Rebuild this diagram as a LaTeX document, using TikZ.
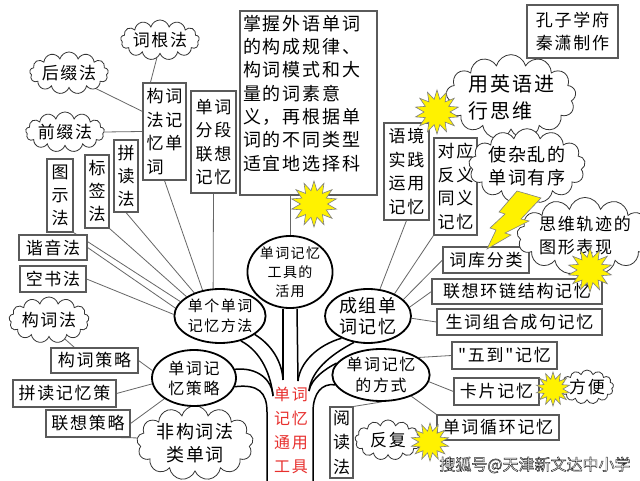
\documentclass[tikz,border=0pt]{standalone}
\usepackage{fontspec}
\setmainfont{Noto Sans CJK SC}
\newfontfamily\cjk[LetterSpace=10]{Noto Sans CJK SC}
\usetikzlibrary{shapes.geometric,shapes.symbols,calc}
\pgfdeclarelayer{bg}
\pgfsetlayers{bg,main}
\definecolor{boxgray}{HTML}{5A5A5A}
\definecolor{lgray}{HTML}{666666}
\definecolor{staryel}{HTML}{FFF200}
\definecolor{redtxt}{HTML}{E8302E}
\newcommand{\outlinetext}[1]{\special{pdf:literal direct 1 g 0.15 G 0.45 w 2 Tr}#1\special{pdf:literal direct 0 Tr 0 g 0 G}}
\tikzset{
  bx/.style={draw=boxgray, line width=1.1pt, fill=white, inner sep=0pt, align=left,
    font=\cjk\fontsize{17}{23.5}\selectfont},
  cl/.style={cloud, cloud puffs=13, cloud ignores aspect, draw=black!80, line width=0.8pt,
    fill=white, inner sep=0pt, align=left, font=\cjk\fontsize{17}{23}\selectfont},
  el/.style={ellipse, draw=black, line width=1.8pt, fill=white, inner sep=0pt, align=center},
  boom/.style={star, star points=14, star point ratio=1.7, fill=staryel, draw=gray,
    line width=0.6pt, inner sep=0pt},
  ln/.style={draw=lgray, line width=0.8pt},
  tr/.style={draw=black, line width=1.5pt},
  wm/.style={inner sep=0pt, font=\fontsize{16}{16}\selectfont},
}
\begin{document}
\begin{tikzpicture}[x=1pt,y=-1pt]
\useasboundingbox (0,0) rectangle (640,481);
\begin{pgfonlayer}{bg}
\fill[white] (0,0) rectangle (640,481);
\end{pgfonlayer}

% ---------- boxes ----------
\node[bx, minimum width=43, minimum height=97] (b1) at (164.5,131.5) {构词\\法记\\忆单\\词};
\node[bx, minimum width=45, minimum height=102] (b2) at (213.5,142) {单词\\分段\\联想\\记忆};
\node[bx, minimum width=137, minimum height=184] (b3) at (308.5,103) {};
\node[anchor=north west, inner sep=0pt, align=left, font=\cjk\fontsize{18}{23.3}\selectfont] (b3t) at (243,15)
  {掌握外语单词\\的构成规律、\\构词模式和大\\量的词素意\\义，再根据单\\词的不同类型\\适宜地选择科};
\node[bx, minimum width=91, minimum height=53, font=\cjk\fontsize{17}{24}\selectfont] (b4) at (572.5,31.5) {孔子学府\\秦潇制作};
\node[bx, minimum width=45, minimum height=97] (b5) at (406.5,171.5) {语境\\实践\\运用\\记忆};
\node[bx, minimum width=43, minimum height=97] (b6) at (455.5,186.5) {对应\\反义\\同义\\记忆};
\node[bx, minimum width=86, minimum height=26] (b7) at (486,260) {词库分类};
\node[bx, minimum width=170, minimum height=25] (b8) at (517,291.5) {联想环链结构记忆};
\node[bx, minimum width=165, minimum height=26] (b9) at (519.5,322) {生词组合成句记忆};
\node[bx, minimum width=105, minimum height=27] (b10) at (504.5,355.5) {"五到"记忆};
\node[bx, minimum width=85, minimum height=27] (b11) at (496.5,391.5) {卡片记忆};
\node[bx, minimum width=122, minimum height=25] (b12) at (498,427.5) {单词循环记忆};
\node[bx, minimum width=23, minimum height=71, font=\cjk\fontsize{17}{24.5}\selectfont] (b13) at (341.5,442.5) {阅\\读\\法};
\node[bx, minimum width=26, minimum height=73, font=\cjk\fontsize{17}{23}\selectfont] (b14) at (60,195.5) {图\\示\\法};
\node[bx, minimum width=24, minimum height=73, font=\cjk\fontsize{17}{23}\selectfont] (b15) at (97,191.5) {标\\签\\法};
\node[bx, minimum width=24, minimum height=72, font=\cjk\fontsize{17}{23}\selectfont] (b16) at (126,176) {拼\\读\\法};
\node[bx, minimum width=68, minimum height=25] (b17) at (53,247.5) {谐音法};
\node[bx, minimum width=66, minimum height=26] (b18) at (53,279) {空书法};
\node[bx, minimum width=87, minimum height=25] (b19) at (94.5,360.5) {构词策略};
\node[bx, minimum width=103, minimum height=27] (b20) at (64.5,393.5) {拼读记忆策};
\node[bx, minimum width=84, minimum height=27] (b21) at (88,423.5) {联想策略};

% ---------- clouds ----------
\node[cl, minimum width=76, minimum height=40] (c1) at (160,40) {词根法};
\node[cl, minimum width=70, minimum height=42] (c2) at (69,73) {后缀法};
\node[cl, minimum width=76, minimum height=40] (c3) at (65,132) {前缀法};
\node[cl, minimum width=80, minimum height=46] (c4) at (49,320) {构词法};
\node[cl, minimum width=94, minimum height=56, align=center, font=\cjk\fontsize{18}{23}\selectfont] (c5) at (195,443) {非构词法\\类单词};
\node[cl, minimum width=116, minimum height=72, font=\cjk\fontsize{20}{27}\selectfont] (c6) at (511,97) {用英语进\\行思维};
\node[cl, minimum width=102, minimum height=60, font=\cjk\fontsize{18}{23}\selectfont] (c7) at (527,166) {使杂乱的\\单词有序};
\node[cl, minimum width=112, minimum height=64] (c8) at (585,236) {思维轨迹的\\图形表现};
\node[cl, minimum width=50, minimum height=34] (c9) at (587,387) {方便};
\node[cl, minimum width=66, minimum height=40] (c10) at (388,440) {反复};

% ---------- ellipses ----------
\node[el, minimum width=84, minimum height=54, font=\cjk\fontsize{15}{20}\selectfont] (e1) at (220,316) {单个单词\\记忆方法};
\node[el, minimum width=80, minimum height=70, font=\cjk\fontsize{14}{19}\selectfont] (e2) at (290,272) {单词记忆\\工具的\\活用};
\node[el, minimum width=86, minimum height=54, font=\cjk\fontsize{18}{21}\selectfont] (e3) at (368,316) {成组单\\词记忆};
\node[el, minimum width=84, minimum height=56, font=\cjk\fontsize{16}{20}\selectfont] (e4) at (194,378) {单词记\\忆策略};
\node[el, minimum width=80, minimum height=52, font=\cjk\fontsize{16}{21}\selectfont] (e5) at (381,375) {单词记忆\\的方式};

% ---------- trunk text ----------
\node[inner sep=0pt, align=left, text=redtxt, font=\cjk\fontsize{16}{24}\selectfont] (red) at (291,430) {单词\\记忆\\通用\\工具};

% ---------- stars and bolt ----------
\node[boom, minimum size=46] (s1) at (314,204) {};
\node[boom, minimum size=44] (s2) at (437,112) {};
\node[boom, minimum size=44] (s3) at (590,270) {};
\node[boom, minimum size=34] (s4) at (553,389) {};
\node[boom, minimum size=38] (s5) at (430,442) {};
\filldraw[fill=staryel, draw=gray, line width=0.6pt]
  (517,191) -- (541,198) -- (521,219) -- (529,221) -- (505,233) -- (511,235) -- (487,249)
  -- (496,230) -- (490,228) -- (505,214) -- (499,212) -- cycle;

% ---------- watermark ----------
\node[wm] (wm) at (535,465) {\outlinetext{搜狐号@天津新文达中小学}};

% ---------- connectors ----------
\begin{pgfonlayer}{bg}
% fan of single-word methods
\draw[ln] (b1.south) -- (e1.124);
\draw[ln] (b2.south) -- (e1.104);
\draw[ln] (b16.south) -- (e1.138);
\draw[ln] (b15.south east) -- (e1.150);
\draw[ln] (b14.south east) -- (e1.160);
\draw[ln] (b17.east) -- (e1.170);
\draw[ln] (b18.east) -- (e1.178);
% around b1
\draw[ln] (c1.-100) -- ($(b1.north west)+(8,0)$);
\draw[ln] (c2.-30) -- ($(b1.north west)+(0,29)$);
\draw[ln] (c3.east) -- (b1.west);
% big box to e2
\draw[ln] (e2.north |- b3.south) -- (e2.north);
% group memory
\draw[ln] (b5.south) -- (e3.66);
\draw[ln] (b6.south west) -- (e3.40);
\draw[ln] (b7.west) -- (e3.25);
\draw[ln] (b8.west) -- (e3.12);
\draw[ln] (b9.west) -- (e3.-3);
% ways
\draw[ln] (b10.west) -- (e5.25);
\draw[ln] (b11.west) -- (e5.-8);
\draw[ln] (b12.north west) -- (e5.-35);
\draw[ln] (b13.north east) -- (e5.-88);
% strategies
\draw[ln] (b19.east) -- (e4.170);
\draw[ln] (b20.east) -- (e4.188);
\draw[ln] (b21.east) -- (e4.215);
\draw[ln] (c4.-50) -- ($(b19.north west)+(24,0)$);
\draw[ln] ($(b21.south east)+(-12,0)$) -- (c5.175);
% tree
\coordinate (j1) at (273,396);
\coordinate (j2) at (283,380);
\coordinate (j3) at (298,381);
\coordinate (j4) at (309,391);
\draw[tr] (e4.-12) .. controls (258,384) and (267,392) .. (267,412) -- (267,481);
\draw[tr] (e4.12) .. controls (258,367) and (272,380) .. (j1);
\draw[tr] (e1.-50) .. controls (262,352) and (271,376) .. (j1);
\draw[tr] (e1.-28) .. controls (272,345) and (282,362) .. (j2);
\draw[tr] ($(e2.south)+(-7,0)$) -- (j2);
\draw[tr] ($(e2.south)+(7,0)$) -- (j3);
\draw[tr] (e3.-140) .. controls (318,345) and (300,362) .. (j3);
\draw[tr] (e3.-118) .. controls (328,356) and (311,372) .. (j4);
\draw[tr] (e5.165) .. controls (325,369) and (311,379) .. (j4);
\draw[tr] (e5.192) .. controls (322,383) and (313,393) .. (313,412) -- (313,481);
\end{pgfonlayer}
\end{tikzpicture}
\end{document}
